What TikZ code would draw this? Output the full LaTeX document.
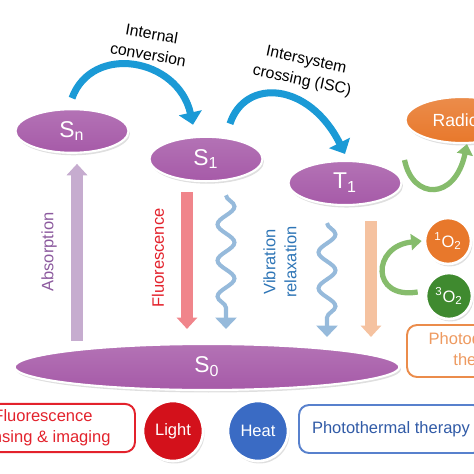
\documentclass[tikz,border=0pt]{standalone}
\usepackage{fontspec}
\setmainfont{Liberation Sans}
\usetikzlibrary{shapes.geometric,arrows.meta,decorations.pathmorphing,shadows}

\definecolor{levelpurple}{HTML}{A65AA8}
\definecolor{convblue}{HTML}{1B9AD6}
\definecolor{radorange}{HTML}{E8782B}
\definecolor{oxgreen}{HTML}{3F8A2F}
\definecolor{arcgreen}{HTML}{86BC6C}
\definecolor{lightred}{HTML}{D3111B}
\definecolor{heatblue}{HTML}{3A6BC4}
\definecolor{flured}{HTML}{E3222C}
\definecolor{vrblue}{HTML}{2E75B6}
\definecolor{absviolet}{HTML}{8C5A9E}

\begin{document}
\begin{tikzpicture}[x=0.02cm,y=-0.02cm]

    \tikzset{
      level/.style={
        ellipse,
        draw=white,
        line width=1.2pt,
        top color=levelpurple!85!white,
        bottom color=levelpurple,
        text=white,
        font=\fontsize{13}{15}\selectfont,
        minimum width=22.6mm,
        minimum height=8.4mm,
        drop shadow={opacity=0.25,shadow xshift=0.3mm,shadow yshift=-0.5mm},
      },
      ball/.style={
        circle,
        draw=white,
        line width=1.5pt,
        text=white,
        inner sep=0pt,
        drop shadow={opacity=0.25,shadow xshift=0.3mm,shadow yshift=-0.5mm},
      },
      usebox/.style={
        rectangle,
        rounded corners=2mm,
        line width=1.1pt,
        fill=white,
        align=center,
        font=\fontsize{9.4}{12}\selectfont,
        minimum height=9.6mm,
      },
      proc/.style={align=center,font=\fontsize{9}{12}\selectfont},
      side/.style={rotate=90,align=center,font=\fontsize{9.4}{12}\selectfont},
      convarrow/.style={convblue,line width=4pt,-{Triangle[width=13pt,length=7pt]}},
      greenarc/.style={arcgreen,line width=3pt,-{Triangle[width=9pt,length=6pt]}},
      straight/.style={line width=6.5pt,-{Triangle[width=11.5pt,length=6.5pt]}},
      wavy/.style={
        line width=2.3pt,
        decorate,
        decoration={snake,amplitude=1.7mm,segment length=7.2mm,post length=2.5mm},
        -{Triangle[width=12pt,length=6.5pt]},
      },
    }
    \useasboundingbox (0,0) rectangle (474,474);
    \clip (0,0) rectangle (474,474);

    % energy levels
    \node[level] (Sn) at (72,131) {S\textsubscript{n}};
    \node[level] (Sone) at (206,159) {S\textsubscript{1}};
    \node[level] (Tone) at (345,183) {T\textsubscript{1}};
    \node[level,minimum width=77mm,minimum height=9.2mm] (Szero) at (207,367) {S\textsubscript{0}};

    % products
    \node[level,top color=radorange!85!white,bottom color=radorange,minimum height=9.2mm,font=\fontsize{10}{12}\selectfont] (radical) at (462,120) {Radical};
    \node[ball,fill=radorange,minimum size=9.2mm,font=\fontsize{9.4}{11}\selectfont] (singlet) at (448,241) {\textsuperscript{1}O\textsubscript{2}};
    \node[ball,fill=oxgreen,minimum size=9.2mm,font=\fontsize{9.4}{11}\selectfont] (triplet) at (449,296) {\textsuperscript{3}O\textsubscript{2}};
    \node[ball,fill=lightred,minimum size=12mm,font=\fontsize{9.4}{11}\selectfont] (light) at (173,431) {Light};
    \node[ball,fill=heatblue,minimum size=12mm,font=\fontsize{9.4}{11}\selectfont] (heat) at (258,431) {Heat};

    % applications
    \node[usebox,draw=flured,text=flured,minimum width=36.8mm] (fluobox) at (43,428) {Fluorescence\\sensing \& imaging};
    \node[usebox,draw=heatblue!85!white,text=heatblue!85!black,minimum width=36.8mm] (pttbox) at (391,429) {Photothermal therapy};
    \node[usebox,draw=radorange!85!white,text=radorange!75!white,minimum width=29.6mm,minimum height=10.4mm] (pdtbox) at (481,351) {Photodynamic\\therapy};

    % transitions between levels
    \node[proc,rotate=-10] (iclabel) at (150,44) {Internal\\conversion};
    \node[proc,rotate=-12] (isclabel) at (304,71) {Intersystem\\crossing (ISC)};
    \draw[convarrow] ([yshift=2mm]Sn.north) .. controls +(20,-55) and +(-15,-67) .. ([shift={(-2.6mm,2.2mm)}]Sone.north);
    \draw[convarrow] ([shift={(4.8mm,2.4mm)}]Sone.north) .. controls +(15,-46) and +(-36,-72) .. ([yshift=1.2mm]Tone.north);

    \draw[straight,absviolet!50!white] ([xshift=1mm,yshift=0.4mm]Sn.south |- Szero.north) -- ([xshift=1mm,yshift=-2mm]Sn.south);
    \node[side,text=absviolet] (abslabel) at (49,252) {Absorption};

    \draw[straight,flured!55!white] ([xshift=-3.8mm,yshift=-2mm]Sone.south) -- ([xshift=-3.8mm,yshift=2.8mm]Sone.south |- Szero.north);
    \node[side,text=flured] (flulabel) at (158,258) {Fluorescence};

    \draw[wavy,vrblue!50!white] ([xshift=4mm,yshift=-2.6mm]Sone.south) -- ([xshift=4mm,yshift=2.8mm]Sone.south |- Szero.north);
    \draw[wavy,vrblue!50!white] ([xshift=-3.6mm,yshift=-3.4mm]Tone.south) -- ([xshift=-3.6mm,yshift=1.2mm]Tone.south |- Szero.north);
    \node[side,text=vrblue] (vrlabel) at (280,262) {Vibration\\relaxation};

    \draw[straight,radorange!45!white] ([xshift=5.2mm,yshift=-3mm]Tone.south) -- ([xshift=5.2mm,yshift=1.2mm]Tone.south |- Szero.north);

    % reactions of the triplet
    \draw[greenarc] ([shift={(0.4mm,4.6mm)}]Tone.east) .. controls +(8,40) and +(-12,57) .. ([xshift=1mm]radical.south);
    \draw[greenarc] ([shift={(-1.4mm,0.8mm)}]triplet.west) .. controls +(-47,8) and +(-50,5) .. ([xshift=-0.4mm]singlet.west);

\end{tikzpicture}
\end{document}
